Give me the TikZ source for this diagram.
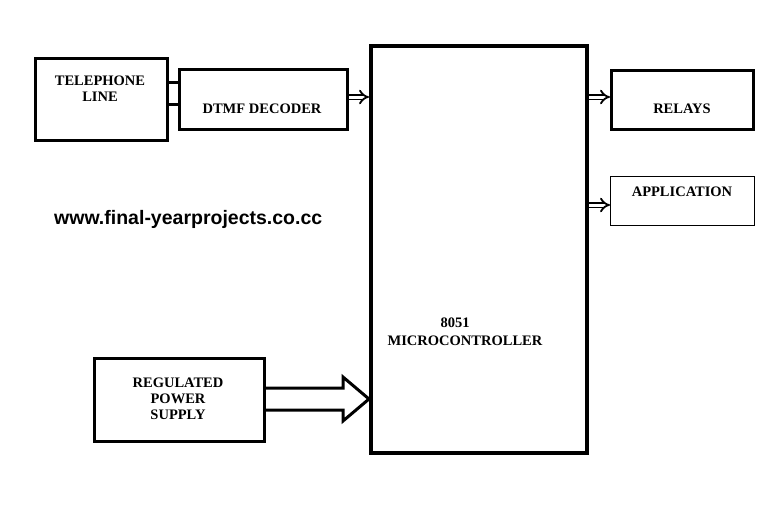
\documentclass[tikz,border=0pt]{standalone}
\usepackage{fontspec}
\setmainfont{Liberation Serif}
\newfontfamily\wm{Liberation Sans}
\usetikzlibrary{arrows.meta}
\begin{document}
\begin{tikzpicture}[x=1pt,y=-1pt,
  blk/.style={draw,line width=3pt,inner sep=0pt},
  lbl/.style={font=\bfseries\fontsize{14.5}{16}\selectfont,align=center,inner sep=0pt},
  dar/.style={double,line width=1.8pt,double distance=3pt,-{Implies[length=6pt,width=10pt]}}]
\useasboundingbox (0,0) rectangle (771,512);
\node[blk,minimum width=132pt,minimum height=82pt,anchor=north west] (tel) at (34,57) {};
\node[lbl] (tl) at (100,89) {TELEPHONE\\LINE};
\node[blk,minimum width=168pt,minimum height=60pt,anchor=north west] (dtmf) at (178,68) {};
\node[lbl] (dl) at (262,109) {DTMF DECODER};
\node[blk,line width=4pt,minimum width=216pt,minimum height=407pt,anchor=north west] (mc) at (369,44) {};
\node[lbl] (m1) at (455,323) {8051};
\node[lbl] (m2) at (465,341) {MICROCONTROLLER};
\node[blk,minimum width=142pt,minimum height=59pt,anchor=north west] (rel) at (610,69) {};
\node[lbl] (rl) at (682,109) {RELAYS};
\node[draw,line width=0.8pt,minimum width=144pt,minimum height=49pt,anchor=north west] (app) at (610,176) {};
\node[lbl] (al) at (682,192) {APPLICATION};
\node[blk,minimum width=170pt,minimum height=83pt,anchor=north west] (pow) at (93,357) {};
\node[lbl] (pl) at (178,399) {REGULATED\\POWER\\SUPPLY};
\draw[line width=3pt] (tel.east |- 0,82) -- (dtmf.west |- 0,82);
\draw[line width=3pt] (tel.east |- 0,104) -- (dtmf.west |- 0,104);
\draw[dar] (dtmf.east |- 0,97) -- (mc.west |- 0,97);
\draw[dar] (mc.east |- 0,97) -- (rel.west |- 0,97);
\draw[dar] (mc.east |- 0,205) -- (app.west |- 0,205);
\coordinate (pe) at (pow.east |- 0,399);
\coordinate (me) at (mc.west |- 0,399);
\draw[line width=3pt,fill=white,line join=miter] (pe) ++(0,-11) -- (343,388) -- (343,377) -- (me) -- (343,421) -- (343,410) -- (pow.east |- 0,410);
\node[font=\wm\bfseries\fontsize{19.5}{22}\selectfont,anchor=west,inner sep=0pt] (wm) at (54,219) {www.final-yearprojects.co.cc};
\end{tikzpicture}
\end{document}
